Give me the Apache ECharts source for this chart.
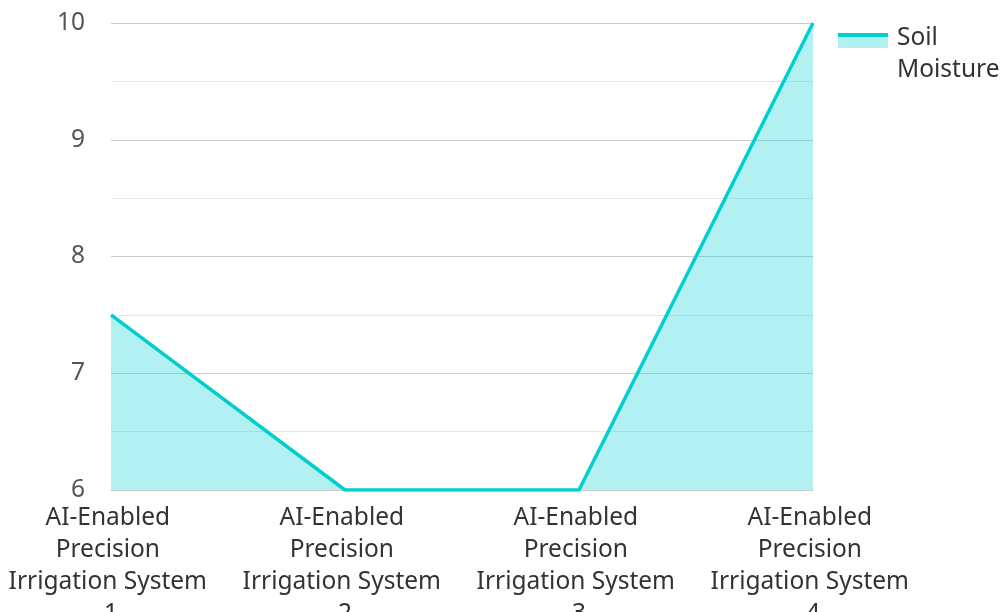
<!DOCTYPE html>
<html><head><meta charset="utf-8">
<script src="https://cdn.jsdelivr.net/npm/echarts@6/dist/echarts.min.js"></script>
<style>html,body{margin:0;padding:0;background:#fff}#c{width:1003px;height:612px}</style>
</head><body><div id="c"></div>
<script>
const categories = ["AI-Enabled Precision Irrigation System 1","AI-Enabled Precision Irrigation System 2","AI-Enabled Precision Irrigation System 3","AI-Enabled Precision Irrigation System 4"];
const seriesName = "Soil Moisture";
const soilMoisture = [7.5, 6, 6, 10];
const yTicks = [6, 7, 8, 9, 10];

const iconSvg = '<svg xmlns="http://www.w3.org/2000/svg" width="50" height="64" viewBox="0 0 50 64">' +
  '<rect x="0" y="11" width="50" height="15" fill="#b2f0f0"/>' +
  '<rect x="0" y="11" width="50" height="4" fill="#00CED1"/></svg>';
const iconUri = 'image://data:image/svg+xml;charset=utf-8,' + encodeURIComponent(iconSvg);

const chart = echarts.init(document.getElementById('c'));
chart.setOption({
  animation: false,
  textStyle: {fontFamily: 'Noto Sans'},
  grid: {left: 111, right: 190, top: 23, bottom: 122, containLabel: false, outerBoundsMode: 'none'},
  legend: {
    top: 22, left: 838, orient: 'vertical', padding: 0,
    itemWidth: 50, itemHeight: 64, itemGap: 10,
    icon: iconUri,
    textStyle: {fontSize: 24.5, color: '#333', width: 110, overflow: 'break', lineHeight: 32, fontFamily: 'Noto Sans', padding: [0, 0, 0, 4]},
    data: [{name: seriesName, icon: iconUri}]
  },
  xAxis: {
    type: 'category', data: categories, boundaryGap: false,
    axisLine: {show: true, lineStyle: {color: '#ccc'}},
    axisTick: {show: false},
    axisLabel: {interval: 0, fontSize: 24.5, color: '#333', width: 212, overflow: 'break', lineHeight: 32, margin: 12, fontFamily: 'Noto Sans'}
  },
  yAxis: {
    type: 'value', min: yTicks[0], max: yTicks[yTicks.length-1], interval: 1,
    axisLine: {show: false}, axisTick: {show: false},
    axisLabel: {fontSize: 24.5, color: '#555', margin: 26, fontFamily: 'Noto Sans'},
    splitLine: {lineStyle: {color: '#ccc', width: 1}},
    minorTick: {show: false, splitNumber: 2},
    minorSplitLine: {show: true, lineStyle: {color: '#e6e6e6', width: 1}}
  },
  series: [{
    name: seriesName, type: 'line', data: soilMoisture,
    showSymbol: false, symbol: 'none',
    lineStyle: {color: '#00CED1', width: 3.5},
    itemStyle: {color: '#00CED1'},
    areaStyle: {color: '#00CED1', opacity: 0.3}
  }]
});
</script></body></html>
